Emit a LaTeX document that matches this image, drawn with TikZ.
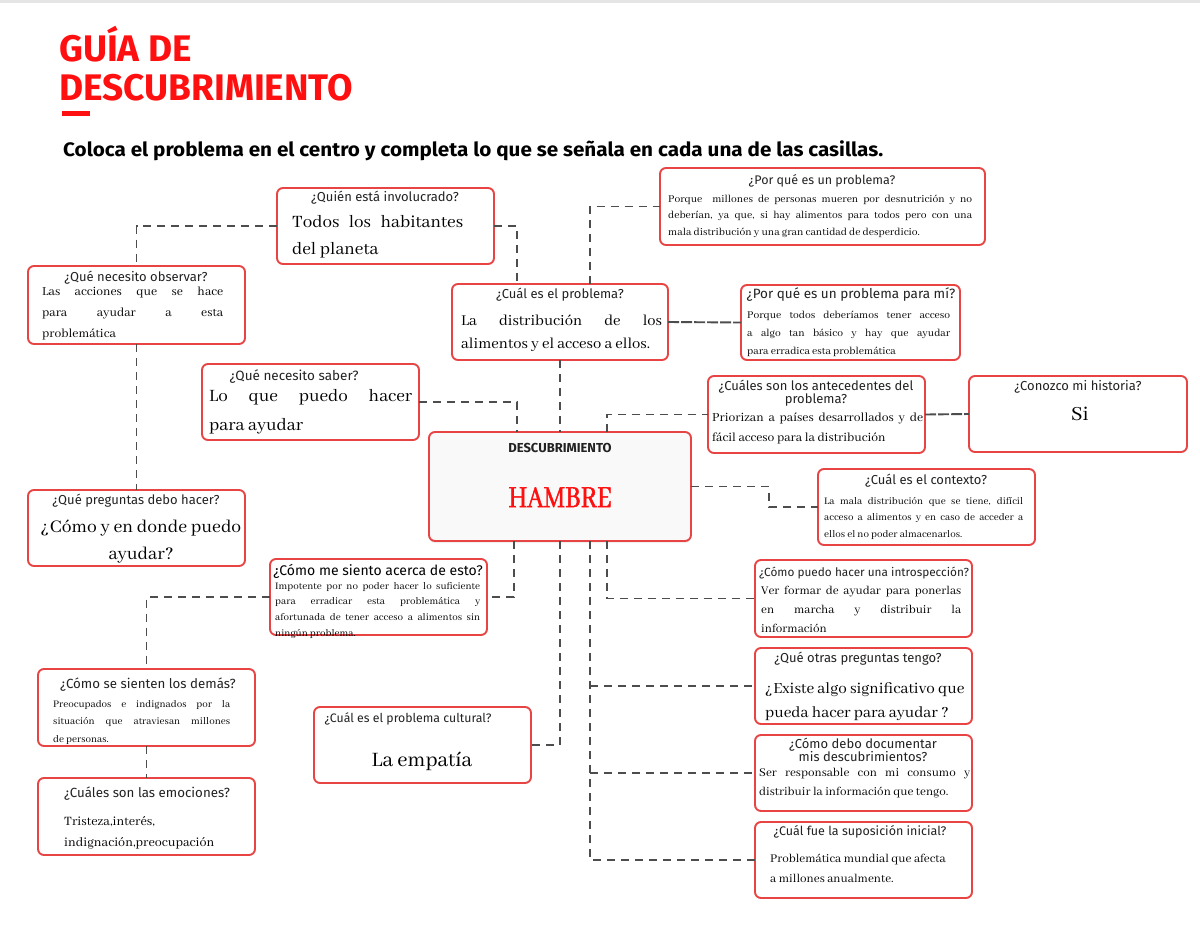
\documentclass[tikz,border=0pt]{standalone}
\usepackage{fontspec}
\setsansfont{Fira Sans}
\newfontfamily\bodyfont{Abhaya Libre}
\newfontfamily\hamfont[FakeBold=1.6]{Abhaya Libre}
\usetikzlibrary{calc,shadows}
\definecolor{boxred}{HTML}{E84444}
\definecolor{conngray}{HTML}{4D4D4D}
\definecolor{titlered}{HTML}{FF1010}
\definecolor{qtext}{HTML}{222222}
\newcommand\J[1]{\makebox[\linewidth][s]{#1}}
\newcommand\rbox[6][]{\node[box,#1,minimum width={#5-#3},minimum height={#6-#4}] (#2) at ({(#3+#5)/2},{(#4+#6)/2}) {};}
\tikzset{
  box/.style={draw=boxred,line width=1.9pt,rounded corners=6pt,fill=white,inner sep=0pt,outer sep=0pt},
  conn/.style={draw=conngray,line width=1.9pt,dash pattern=on 8pt off 6pt},
  connlong/.style={draw=conngray,line width=1.9pt,dash pattern=on 11pt off 2pt},
  ttl/.style={inner sep=0pt,anchor=base,text=qtext,font=\sffamily\fontsize{13}{14}\selectfont},
  body/.style={inner sep=0pt,anchor=base west,text=black},
}
\begin{document}
\begin{tikzpicture}[x=1pt,y=-1pt]
\useasboundingbox (0,0) rectangle (1200,927);
\fill[white] (0,0) rectangle (1200,927);
\draw[gray!20,line width=3pt] (0,1) -- (1200,1);

% header
\node[inner sep=0pt,anchor=base west,text=titlered,font=\sffamily\bfseries\fontsize{37}{40}\selectfont] (h1) at (59,61) {GUÍA DE};
\node[inner sep=0pt,anchor=base west,text=titlered,font=\sffamily\bfseries\fontsize{37}{40}\selectfont] (h2) at (59,100) {DESCUBRIMIENTO};
\fill[titlered] (62,111) rectangle (90,116);
\node[inner sep=0pt,anchor=base west,text=black,font=\sffamily\bfseries\fontsize{19.5}{22}\selectfont] (sub) at (63,156) {\scalebox{1.06}[1]{Coloca el problema en el centro y completa lo que se señala en cada una de las casillas.}};

\coordinate (xa) at (517,0);
\coordinate (xb) at (590,0);
\coordinate (xc) at (607,0);
\coordinate (xd) at (514,0);
\coordinate (xe) at (560,0);
\coordinate (xf) at (769,0);

% boxes
\rbox{quien}{277}{188}{494}{264}
\rbox{observar}{28}{266}{245}{344}
\rbox{problema}{452}{284}{668}{360}
\rbox{porque}{660}{168}{985}{245}
\rbox{parami}{741}{285}{960}{360}
\rbox{saber}{202}{364}{419}{440}
\rbox[fill=gray!5,drop shadow={opacity=0.12,shadow xshift=0pt,shadow yshift=-2pt}]{central}{429}{432}{691}{541}
\rbox{antec}{708}{376}{925}{453}
\rbox{conozco}{969}{376}{1187}{452}
\rbox{contexto}{818}{469}{1035}{545}
\rbox{preguntas}{28}{490}{245}{566}
\rbox{siento}{270}{559}{487}{635}
\rbox{demas}{38}{669}{255}{746}
\rbox{emociones}{38}{778}{255}{855}
\rbox{cultural}{314}{707}{531}{783}
\rbox{intro}{755}{560}{972}{637}
\rbox{otras}{755}{648}{972}{724}
\rbox{docu}{755}{735}{972}{811}
\rbox{supo}{755}{822}{972}{898}

% connectors
\draw[conn] (quien.west) -| (observar.north);
\draw[conn] (observar.south) -- (preguntas.north);
\draw[conn] (quien.east) -| (xa |- problema.north);
\draw[conn] (xb |- problema.north) |- (porque.west);
\draw[connlong] (problema.east) -- (parami.west);
\draw[conn] (problema.south) -- (central.north);
\draw[conn] (saber.east) -| (xa |- central.north);
\draw[conn] (xc |- central.north) |- (antec.west);
\draw[connlong] (antec.east) -- (conozco.west);
\draw[conn] (central.east) -| (xf |- contexto.west) -- (contexto.west);
\draw[conn] (xd |- central.south) |- (siento.east);
\draw[conn] (siento.west) -| (demas.north);
\draw[conn] (demas.south) -- (emociones.north);
\draw[conn] (xe |- central.south) |- (cultural.east);
\draw[conn] (xb |- central.south) |- (supo.west);
\draw[conn] (xb |- otras.west) -- (otras.west);
\draw[conn] (xb |- docu.west) -- (docu.west);
\draw[conn] (xc |- central.south) |- (intro.west);

% titles
\node[ttl] (t-quien) at (385,201) {¿Quién está involucrado?};
\node[ttl] (t-observar) at (136,281) {¿Qué necesito observar?};
\node[ttl] (t-problema) at (560,298) {¿Cuál es el problema?};
\node[ttl,font=\sffamily\fontsize{12.5}{13}\selectfont] (t-porque) at (822,184) {¿Por qué es un problema?};
\node[ttl,font=\sffamily\fontsize{13.5}{14}\selectfont] (t-parami) at (851,298) {¿Por qué es un problema para mí?};
\node[ttl,font=\sffamily\fontsize{13.5}{14}\selectfont] (t-saber) at (294,380) {¿Qué necesito saber?};
\node[ttl,font=\sffamily\bfseries\fontsize{13}{14}\selectfont] (t-central) at (560,452) {DESCUBRIMIENTO};
\node[inner sep=0pt,anchor=base,text=titlered,font=\hamfont\fontsize{28}{30}\selectfont] (hambre) at (560,507) {\scalebox{0.97}[1.2]{HAMBRE}};
\node[ttl] (t-antec) at (816,390) {\parbox[t]{217pt}{\centering\fontsize{13}{12.5}\selectfont ¿Cuáles son los antecedentes del\\problema?}};
\node[ttl] (t-conozco) at (1078,390) {¿Conozco mi historia?};
\node[ttl] (t-contexto) at (926,484) {¿Cuál es el contexto?};
\node[ttl] (t-preguntas) at (136,504) {¿Qué preguntas debo hacer?};
\node[ttl,font=\sffamily\fontsize{14}{15}\selectfont,text=black] (t-siento) at (378,575) {¿Cómo me siento acerca de esto?};
\node[ttl,font=\sffamily\fontsize{13.3}{14}\selectfont] (t-demas) at (148,688) {¿Cómo se sienten los demás?};
\node[ttl,font=\sffamily\fontsize{13.3}{14}\selectfont] (t-emociones) at (147,797) {¿Cuáles son las emociones?};
\node[ttl,font=\sffamily\fontsize{12.3}{13}\selectfont] (t-cultural) at (408,722) {¿Cuál es el problema cultural?};
\node[ttl,font=\sffamily\fontsize{11.8}{13}\selectfont] (t-intro) at (864,576) {¿Cómo puedo hacer una introspección?};
\node[ttl] (t-otras) at (858,662) {¿Qué otras preguntas tengo?};
\node[ttl] (t-docu) at (863,748) {\parbox[t]{217pt}{\centering\fontsize{13}{11}\selectfont ¿Cómo debo documentar\\mis descubrimientos?}};
\node[ttl,font=\sffamily\fontsize{12.5}{13}\selectfont] (t-supo) at (860,835) {¿Cuál fue la suposición inicial?};

% bodies
\node[body,font=\bodyfont\fontsize{19}{27}\selectfont] (b-quien) at (292,227) {\parbox[t]{171pt}{\J{Todos los habitantes}\\del planeta}};
\node[body,font=\bodyfont\fontsize{13.5}{21}\selectfont] (b-observar) at (42,295) {\parbox[t]{181pt}{\J{Las acciones que se hace}\\\J{para ayudar a esta}\\problemática}};
\node[body,font=\bodyfont\fontsize{16.5}{23}\selectfont] (b-problema) at (461,325) {\parbox[t]{201pt}{\J{La distribución de los}\\alimentos y el acceso a ellos.}};
\node[body,font=\bodyfont\fontsize{11.5}{16.5}\selectfont] (b-porque) at (668,202) {\parbox[t]{304pt}{\J{Porque \ millones de personas mueren por desnutrición y no}\\\J{deberían, ya que, si hay alimentos para todos pero con una}\\mala distribución y una gran cantidad de desperdicio.}};
\node[body,font=\bodyfont\fontsize{11.5}{18}\selectfont] (b-parami) at (747,318) {\parbox[t]{203pt}{\J{Porque todos deberíamos tener acceso}\\\J{a algo tan básico y hay que ayudar}\\para erradica esta problemática}};
\node[body,font=\bodyfont\fontsize{19}{29}\selectfont] (b-saber) at (209,401) {\parbox[t]{203pt}{\J{Lo que puedo hacer}\\para ayudar}};
\node[body,font=\bodyfont\fontsize{13.5}{20}\selectfont] (b-antec) at (712,421) {\parbox[t]{211pt}{\J{Priorizan a países desarrollados y de}\\fácil acceso para la distribución}};
\node[inner sep=0pt,anchor=base,font=\bodyfont\fontsize{22}{24}\selectfont] (b-conozco) at (1080,420) {Si};
\node[body,font=\bodyfont\fontsize{11}{16.5}\selectfont] (b-contexto) at (824,504) {\parbox[t]{199pt}{\J{La mala distribución que se tiene, difícil}\\\J{acceso a alimentos y en caso de acceder a}\\ellos el no poder almacenarlos.}};
\node[inner sep=0pt,anchor=base,font=\bodyfont\fontsize{19.5}{27}\selectfont] (b-preguntas) at (141,532) {\parbox[t]{210pt}{\centering ¿Cómo y en donde puedo\\ayudar?}};
\node[body,font=\bodyfont\fontsize{11}{15.8}\selectfont] (b-siento) at (275,589) {\parbox[t]{205pt}{\J{Impotente por no poder hacer lo suficiente}\\\J{para erradicar esta problemática y}\\\J{afortunada de tener acceso a alimentos sin}\\ningún problema.}};
\node[body,font=\bodyfont\fontsize{11}{17.5}\selectfont] (b-demas) at (53,707) {\parbox[t]{177pt}{\J{Preocupados e indignados por la}\\\J{situación que atraviesan millones}\\de personas.}};
\node[body,font=\bodyfont\fontsize{14}{21}\selectfont] (b-emociones) at (64,825) {\parbox[t]{180pt}{Tristeza,interés,\\indignación,preocupación}};
\node[inner sep=0pt,anchor=base,font=\bodyfont\fontsize{22.5}{24}\selectfont] (b-cultural) at (422,766) {La empatía};
\node[body,font=\bodyfont\fontsize{13}{19}\selectfont] (b-intro) at (761,594) {\parbox[t]{200pt}{\J{Ver formar de ayudar para ponerlas}\\\J{en marcha y distribuir la}\\información}};
\node[body,font=\bodyfont\fontsize{17}{24}\selectfont] (b-otras) at (765,693) {\parbox[t]{200pt}{¿Existe algo significativo que\\pueda hacer para ayudar ?}};
\node[body,font=\bodyfont\fontsize{13}{19}\selectfont] (b-docu) at (759,776) {\parbox[t]{211pt}{\J{Ser responsable con mi consumo y}\\distribuir la información que tengo.}};
\node[body,font=\bodyfont\fontsize{13}{20}\selectfont] (b-supo) at (770,862) {\parbox[t]{195pt}{Problemática mundial que afecta\\a millones anualmente.}};
\end{tikzpicture}
\end{document}
